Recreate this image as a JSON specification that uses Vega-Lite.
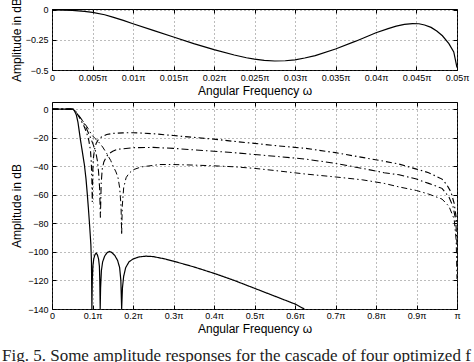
{
  "$schema": "https://vega.github.io/schema/vega-lite/v6.json",
  "padding": {"left": 2, "top": -4, "right": 0, "bottom": 0},
  "background": "white",
  "title": {
    "text": "Fig. 5.   Some amplitude responses for the cascade of four optimized f",
    "orient": "bottom",
    "anchor": "start",
    "frame": "group",
    "font": "Liberation Serif",
    "fontSize": 17,
    "fontWeight": "normal",
    "color": "#222",
    "dx": -50,
    "offset": 13
  },
  "datasets": {
    "top": [
      {"w": 0, "a": 0}, {"w": 0.0025, "a": -0.004}, {"w": 0.004, "a": -0.012}, {"w": 0.005, "a": -0.02}, {"w": 0.0065, "a": -0.04}, {"w": 0.0075, "a": -0.06},
      {"w": 0.0088, "a": -0.087}, {"w": 0.01, "a": -0.115}, {"w": 0.0125, "a": -0.17}, {"w": 0.015, "a": -0.225}, {"w": 0.0175, "a": -0.28},
      {"w": 0.02, "a": -0.33}, {"w": 0.0225, "a": -0.375}, {"w": 0.024, "a": -0.398}, {"w": 0.025, "a": -0.41}, {"w": 0.0262, "a": -0.42}, {"w": 0.0275, "a": -0.425},
      {"w": 0.0288, "a": -0.423}, {"w": 0.03, "a": -0.415}, {"w": 0.0312, "a": -0.4}, {"w": 0.0325, "a": -0.38}, {"w": 0.035, "a": -0.325}, {"w": 0.0375, "a": -0.26},
      {"w": 0.04, "a": -0.19}, {"w": 0.0415, "a": -0.155}, {"w": 0.0425, "a": -0.135}, {"w": 0.0435, "a": -0.12}, {"w": 0.0445, "a": -0.113}, {"w": 0.0453, "a": -0.115}, {"w": 0.046, "a": -0.125},
      {"w": 0.0468, "a": -0.145}, {"w": 0.0475, "a": -0.175}, {"w": 0.0482, "a": -0.215}, {"w": 0.049, "a": -0.28}, {"w": 0.0496, "a": -0.35}, {"w": 0.05, "a": -0.48}
    ],
    "bottom": [
      {"s": "H", "w": 0, "a": 0}, {"s": "H", "w": 0.03, "a": 0}, {"s": "H", "w": 0.052, "a": 0}, {"s": "H", "w": 0.056, "a": -1.5},
      {"s": "H", "w": 0.06, "a": -4}, {"s": "H", "w": 0.064, "a": -9}, {"s": "H", "w": 0.067, "a": -15}, {"s": "H", "w": 0.07, "a": -21},
      {"s": "H", "w": 0.075, "a": -30}, {"s": "H", "w": 0.08, "a": -39}, {"s": "H", "w": 0.084, "a": -49}, {"s": "H", "w": 0.087, "a": -59},
      {"s": "H", "w": 0.09, "a": -70}, {"s": "H", "w": 0.093, "a": -82}, {"s": "H", "w": 0.096, "a": -95}, {"s": "H", "w": 0.0975, "a": -108},
      {"s": "H", "w": 0.0985, "a": -140}, {"s": "H", "w": 0.0995, "a": -120}, {"s": "H", "w": 0.101, "a": -110}, {"s": "H", "w": 0.103, "a": -105},
      {"s": "H", "w": 0.106, "a": -102}, {"s": "H", "w": 0.109, "a": -100.8}, {"s": "H", "w": 0.112, "a": -102}, {"s": "H", "w": 0.115, "a": -105},
      {"s": "H", "w": 0.117, "a": -110}, {"s": "H", "w": 0.118, "a": -120}, {"s": "H", "w": 0.119, "a": -140}, {"s": "H", "w": 0.12, "a": -125},
      {"s": "H", "w": 0.122, "a": -113}, {"s": "H", "w": 0.125, "a": -107}, {"s": "H", "w": 0.13, "a": -103}, {"s": "H", "w": 0.136, "a": -100.5},
      {"s": "H", "w": 0.142, "a": -99.6}, {"s": "H", "w": 0.148, "a": -100.5}, {"s": "H", "w": 0.155, "a": -102.5}, {"s": "H", "w": 0.162, "a": -106},
      {"s": "H", "w": 0.167, "a": -111}, {"s": "H", "w": 0.17, "a": -120}, {"s": "H", "w": 0.172, "a": -140}, {"s": "H", "w": 0.174, "a": -125},
      {"s": "H", "w": 0.177, "a": -117}, {"s": "H", "w": 0.182, "a": -111}, {"s": "H", "w": 0.19, "a": -107}, {"s": "H", "w": 0.2, "a": -105},
      {"s": "H", "w": 0.215, "a": -103.5}, {"s": "H", "w": 0.232, "a": -103}, {"s": "H", "w": 0.25, "a": -103.3}, {"s": "H", "w": 0.28, "a": -105},
      {"s": "H", "w": 0.3, "a": -106.5}, {"s": "H", "w": 0.35, "a": -110.5}, {"s": "H", "w": 0.4, "a": -115}, {"s": "H", "w": 0.45, "a": -120},
      {"s": "H", "w": 0.5, "a": -125.5}, {"s": "H", "w": 0.55, "a": -131}, {"s": "H", "w": 0.6, "a": -136.5}, {"s": "H", "w": 0.623, "a": -140},

      {"s": "c1", "w": 0, "a": 0}, {"s": "c1", "w": 0.03, "a": 0}, {"s": "c1", "w": 0.052, "a": 0}, {"s": "c1", "w": 0.058, "a": -1.5},
      {"s": "c1", "w": 0.065, "a": -4.5}, {"s": "c1", "w": 0.072, "a": -8}, {"s": "c1", "w": 0.08, "a": -12.5}, {"s": "c1", "w": 0.086, "a": -17},
      {"s": "c1", "w": 0.091, "a": -22}, {"s": "c1", "w": 0.095, "a": -29}, {"s": "c1", "w": 0.097, "a": -37}, {"s": "c1", "w": 0.0985, "a": -50},
      {"s": "c1", "w": 0.0995, "a": -65}, {"s": "c1", "w": 0.1005, "a": -45}, {"s": "c1", "w": 0.102, "a": -35}, {"s": "c1", "w": 0.105, "a": -28},
      {"s": "c1", "w": 0.109, "a": -24}, {"s": "c1", "w": 0.114, "a": -21.5}, {"s": "c1", "w": 0.122, "a": -19.5}, {"s": "c1", "w": 0.135, "a": -17.8},
      {"s": "c1", "w": 0.15, "a": -17}, {"s": "c1", "w": 0.175, "a": -16.6}, {"s": "c1", "w": 0.2, "a": -16.5}, {"s": "c1", "w": 0.25, "a": -17.2},
      {"s": "c1", "w": 0.3, "a": -18.5}, {"s": "c1", "w": 0.35, "a": -19.8}, {"s": "c1", "w": 0.4, "a": -21}, {"s": "c1", "w": 0.45, "a": -22.6},
      {"s": "c1", "w": 0.5, "a": -24}, {"s": "c1", "w": 0.55, "a": -25.5}, {"s": "c1", "w": 0.627, "a": -27.5}, {"s": "c1", "w": 0.7, "a": -30.5},
      {"s": "c1", "w": 0.766, "a": -33.8}, {"s": "c1", "w": 0.82, "a": -36.5}, {"s": "c1", "w": 0.857, "a": -38.5}, {"s": "c1", "w": 0.9, "a": -42},
      {"s": "c1", "w": 0.93, "a": -44.5}, {"s": "c1", "w": 0.963, "a": -49}, {"s": "c1", "w": 0.975, "a": -53}, {"s": "c1", "w": 0.985, "a": -58},
      {"s": "c1", "w": 0.993, "a": -66}, {"s": "c1", "w": 1, "a": -80},

      {"s": "c2", "w": 0, "a": 0}, {"s": "c2", "w": 0.03, "a": 0}, {"s": "c2", "w": 0.052, "a": 0}, {"s": "c2", "w": 0.058, "a": -1.5},
      {"s": "c2", "w": 0.065, "a": -4}, {"s": "c2", "w": 0.075, "a": -8}, {"s": "c2", "w": 0.085, "a": -13.5}, {"s": "c2", "w": 0.095, "a": -20},
      {"s": "c2", "w": 0.102, "a": -25}, {"s": "c2", "w": 0.108, "a": -30}, {"s": "c2", "w": 0.112, "a": -36}, {"s": "c2", "w": 0.115, "a": -44},
      {"s": "c2", "w": 0.1175, "a": -55}, {"s": "c2", "w": 0.1195, "a": -76}, {"s": "c2", "w": 0.1215, "a": -52}, {"s": "c2", "w": 0.124, "a": -42},
      {"s": "c2", "w": 0.128, "a": -37}, {"s": "c2", "w": 0.134, "a": -33.5}, {"s": "c2", "w": 0.139, "a": -31.5}, {"s": "c2", "w": 0.15, "a": -29.5},
      {"s": "c2", "w": 0.16, "a": -28.2}, {"s": "c2", "w": 0.2, "a": -27}, {"s": "c2", "w": 0.25, "a": -26.8}, {"s": "c2", "w": 0.3, "a": -27.5},
      {"s": "c2", "w": 0.35, "a": -28.5}, {"s": "c2", "w": 0.4, "a": -29.5}, {"s": "c2", "w": 0.45, "a": -30.5}, {"s": "c2", "w": 0.5, "a": -31.8},
      {"s": "c2", "w": 0.55, "a": -33}, {"s": "c2", "w": 0.627, "a": -35}, {"s": "c2", "w": 0.7, "a": -38}, {"s": "c2", "w": 0.766, "a": -41.5},
      {"s": "c2", "w": 0.82, "a": -44.5}, {"s": "c2", "w": 0.857, "a": -46}, {"s": "c2", "w": 0.9, "a": -49}, {"s": "c2", "w": 0.93, "a": -52},
      {"s": "c2", "w": 0.963, "a": -55.5}, {"s": "c2", "w": 0.98, "a": -61.5}, {"s": "c2", "w": 0.99, "a": -68}, {"s": "c2", "w": 0.997, "a": -78},
      {"s": "c2", "w": 1, "a": -95},

      {"s": "c3", "w": 0, "a": 0}, {"s": "c3", "w": 0.03, "a": 0}, {"s": "c3", "w": 0.052, "a": 0}, {"s": "c3", "w": 0.058, "a": -1.5},
      {"s": "c3", "w": 0.065, "a": -4.5}, {"s": "c3", "w": 0.077, "a": -8.5}, {"s": "c3", "w": 0.089, "a": -13.5}, {"s": "c3", "w": 0.098, "a": -18},
      {"s": "c3", "w": 0.106, "a": -20.5}, {"s": "c3", "w": 0.114, "a": -22.6}, {"s": "c3", "w": 0.125, "a": -26.5}, {"s": "c3", "w": 0.135, "a": -31},
      {"s": "c3", "w": 0.145, "a": -36}, {"s": "c3", "w": 0.151, "a": -40}, {"s": "c3", "w": 0.158, "a": -44}, {"s": "c3", "w": 0.163, "a": -48},
      {"s": "c3", "w": 0.167, "a": -55}, {"s": "c3", "w": 0.1705, "a": -68}, {"s": "c3", "w": 0.172, "a": -88}, {"s": "c3", "w": 0.1735, "a": -68},
      {"s": "c3", "w": 0.177, "a": -55}, {"s": "c3", "w": 0.183, "a": -48}, {"s": "c3", "w": 0.19, "a": -45}, {"s": "c3", "w": 0.2, "a": -42.5},
      {"s": "c3", "w": 0.22, "a": -40.5}, {"s": "c3", "w": 0.266, "a": -38.8}, {"s": "c3", "w": 0.3, "a": -38.8}, {"s": "c3", "w": 0.35, "a": -39.2},
      {"s": "c3", "w": 0.4, "a": -39.7}, {"s": "c3", "w": 0.45, "a": -40.4}, {"s": "c3", "w": 0.5, "a": -41.5}, {"s": "c3", "w": 0.55, "a": -43},
      {"s": "c3", "w": 0.627, "a": -45.5}, {"s": "c3", "w": 0.7, "a": -47.5}, {"s": "c3", "w": 0.766, "a": -49.5}, {"s": "c3", "w": 0.82, "a": -52},
      {"s": "c3", "w": 0.857, "a": -54.5}, {"s": "c3", "w": 0.9, "a": -57}, {"s": "c3", "w": 0.93, "a": -59.5}, {"s": "c3", "w": 0.963, "a": -63},
      {"s": "c3", "w": 0.98, "a": -68}, {"s": "c3", "w": 0.993, "a": -77}, {"s": "c3", "w": 0.998, "a": -92}, {"s": "c3", "w": 1, "a": -119}
    ]
  },
  "vconcat": [
    {
      "width": 405,
      "height": 61,
      "data": {"name": "top"},
      "resolve": {"axis": {"x": "independent", "y": "independent"}},
      "layer": [
        {
          "mark": {"type": "line", "color": "black", "strokeWidth": 1.2, "clip": true},
          "encoding": {
            "x": {"field": "w", "type": "quantitative",
                  "scale": {"domain": [0, 0.05], "nice": false, "zero": false},
                  "axis": {"orient": "bottom", "values": [0, 0.005, 0.01, 0.015, 0.02, 0.025, 0.03, 0.035, 0.04, 0.045, 0.05],
                           "labelExpr": "datum.value == 0 ? '0' : format(datum.value, '.3~f') + 'π'",
                           "labelPadding": 7,
                           "title": "Angular Frequency ω", "grid": true}},
            "y": {"field": "a", "type": "quantitative",
                  "scale": {"domain": [-0.5, 0.008], "nice": false, "zero": false},
                  "axis": {"orient": "left", "values": [0, -0.25, -0.5], "labelExpr": "format(datum.value, '.2~f')", "title": "Amplitude in dB", "grid": true,
                           "titleX": -29, "titleY": 30.5}}
          }
        },
        {
          "mark": {"type": "line", "opacity": 0},
          "encoding": {
            "x": {"field": "w", "type": "quantitative",
                  "axis": {"orient": "top", "values": [0, 0.005, 0.01, 0.015, 0.02, 0.025, 0.03, 0.035, 0.04, 0.045, 0.05],
                           "labels": false, "title": null, "grid": false}},
            "y": {"field": "a", "type": "quantitative",
                  "axis": {"orient": "right", "values": [0, -0.25, -0.5], "labels": false, "title": null, "grid": false}}
          }
        }
      ]
    },
    {
      "width": 405,
      "height": 207,
      "data": {"name": "bottom"},
      "resolve": {"axis": {"x": "independent", "y": "independent"}},
      "layer": [
        {
          "mark": {"type": "line", "color": "black", "clip": true},
          "encoding": {
            "x": {"field": "w", "type": "quantitative",
                  "scale": {"domain": [0, 1], "nice": false, "zero": false},
                  "axis": {"orient": "bottom", "values": [0, 0.1, 0.2, 0.3, 0.4, 0.5, 0.6, 0.7, 0.8, 0.9, 1],
                           "labelExpr": "datum.value == 0 ? '0' : datum.value == 1 ? 'π' : format(datum.value, '.1f') + 'π'",
                           "labelPadding": 6,
                           "title": "Angular Frequency ω", "grid": true}},
            "y": {"field": "a", "type": "quantitative",
                  "scale": {"domain": [-140, 5], "nice": false, "zero": false},
                  "axis": {"orient": "left", "values": [-140, -120, -100, -80, -60, -40, -20, 0], "labelExpr": "format(datum.value, 'd')", "title": "Amplitude in dB", "grid": true,
                           "titleX": -29, "titleY": 103.5}},
            "detail": {"field": "s"},
            "strokeDash": {"field": "s", "type": "nominal", "legend": null,
                           "scale": {"domain": ["H", "c1", "c2", "c3"], "range": [[1, 0], [6, 3, 1.5, 3], [7, 3, 1.5, 3], [6, 3, 1.5, 3]]}},
            "strokeWidth": {"field": "s", "type": "nominal", "legend": null,
                            "scale": {"domain": ["H", "c1", "c2", "c3"], "range": [1.2, 1, 1, 1]}}
          }
        },
        {
          "mark": {"type": "line", "opacity": 0},
          "encoding": {
            "x": {"field": "w", "type": "quantitative",
                  "axis": {"orient": "top", "values": [0, 0.1, 0.2, 0.3, 0.4, 0.5, 0.6, 0.7, 0.8, 0.9, 1],
                           "labels": false, "title": null, "grid": false}},
            "y": {"field": "a", "type": "quantitative",
                  "axis": {"orient": "right", "values": [-140, -120, -100, -80, -60, -40, -20, 0], "labels": false, "title": null, "grid": false}},
            "detail": {"field": "s"}
          }
        }
      ]
    }
  ],
  "spacing": 32,
  "bounds": "flush",
  "config": {
    "font": "Liberation Sans",
    "view": {"stroke": "black", "strokeWidth": 1},
    "axis": {
      "domain": false,
      "ticks": true,
      "tickSize": -4,
      "tickColor": "black",
      "labelPadding": 8,
      "labelFont": "Liberation Sans",
      "labelFontSize": 9,
      "labelColor": "black",
      "labelFlush": false,
      "labelOverlap": false,
      "titleFont": "Liberation Sans",
      "titleFontSize": 12,
      "titleFontWeight": "normal",
      "titleColor": "black",
      "titlePadding": 3,
      "gridColor": "#555",
      "gridDash": [1, 3],
      "gridWidth": 0.8
    }
  }
}
